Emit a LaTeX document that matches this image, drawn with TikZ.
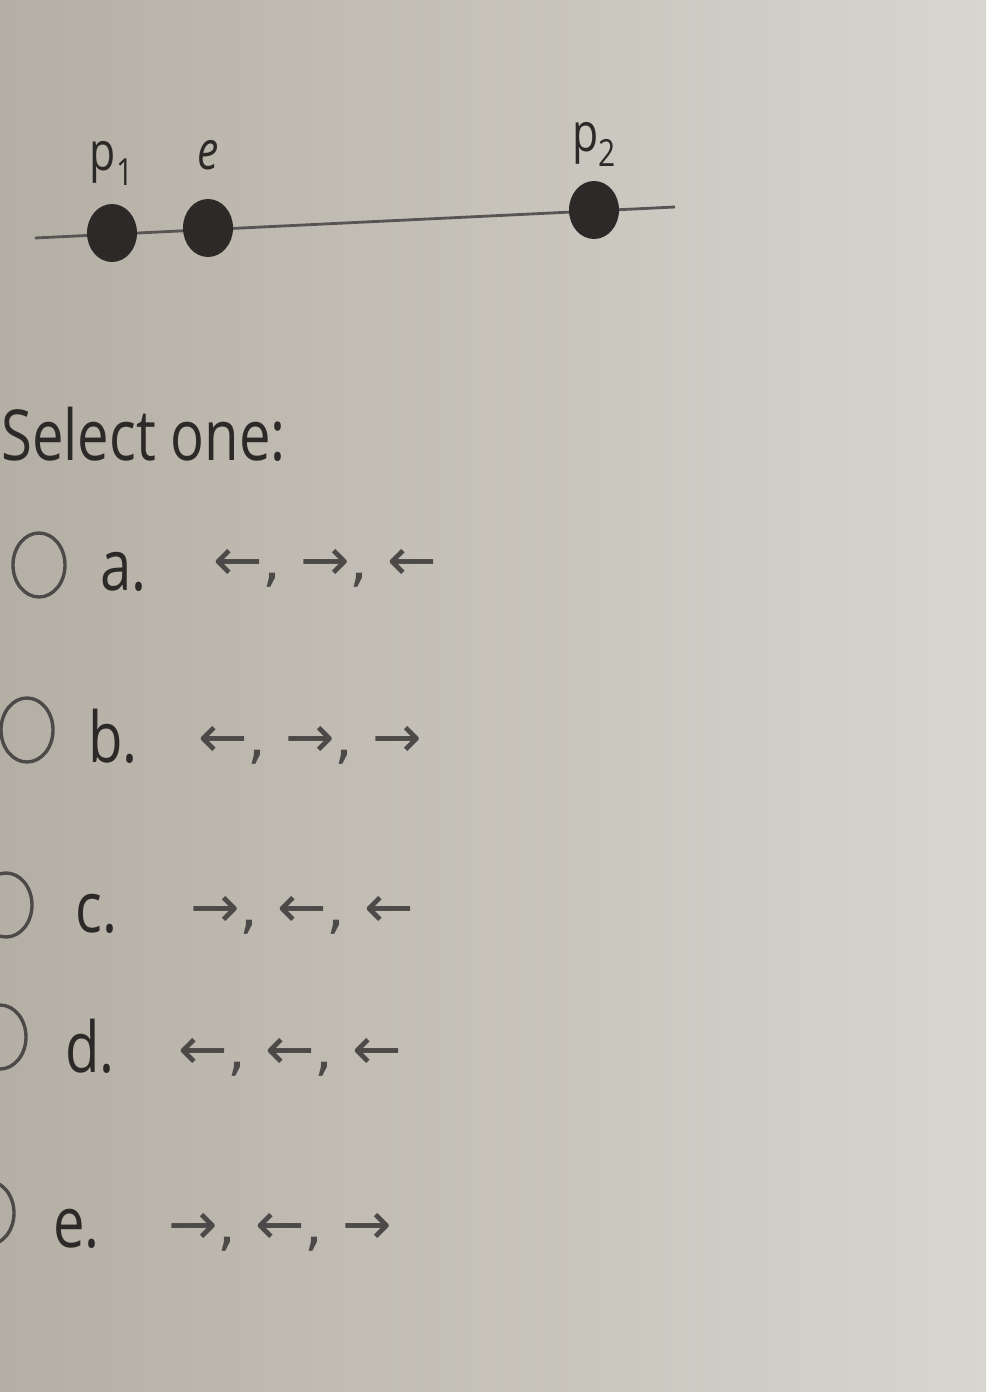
\documentclass[tikz,border=0pt]{standalone}
\usepackage{fontspec}
\setmainfont{Open Sans}
\newfontfamily\screenfont[FakeStretch=0.8]{Open Sans}
\newfontfamily\arrowfont{DejaVu Sans}
\usetikzlibrary{positioning,shapes.geometric}
\definecolor{screenL}{RGB}{180,175,164}
\definecolor{screenR}{RGB}{216,214,208}
\definecolor{ink}{RGB}{44,42,40}

\begin{document}
\begin{tikzpicture}[x=0.025cm,y=-0.025cm,
    every node/.style={inner sep=0pt,text=ink},
    dot/.style={ellipse,fill=ink,minimum width=1.25cm,minimum height=1.45cm},
    radio/.style={ellipse,draw=ink!85,line width=2.4pt,minimum width=1.3cm,minimum height=1.6cm},
    lbl/.style={font=\screenfont\fontsize{38}{42}\selectfont},
    txt/.style={anchor=base west,font=\screenfont\fontsize{50}{60}\selectfont},
    arr/.style={anchor=base west,text=ink!85,font=\arrowfont\fontsize{42}{48}\selectfont}]
    \clip (0,0) rectangle (986,1392);
    \shade[left color=screenL,right color=screenR] (0,0) rectangle (986,1392);
    % number line
    \coordinate (L) at (35,238);
    \coordinate (R) at (675,207);
    \draw[ink!80,line width=2pt] (L) -- (R);
    \node[dot] (P1) at (112,233) {};
    \node[dot] (E) at (208,228) {};
    \node[dot] (P2) at (594,210) {};
    \node[lbl,above=0.45cm of P1] (P1lbl) {p\textsubscript{1}};
    \node[lbl,above=0.7cm of E] (Elbl) {\itshape e};
    \node[lbl,above=0.35cm of P2] (P2lbl) {p\textsubscript{2}};
    % choices
    \node[txt] (Sel) at (1,460) {Select one:};
    \node[radio] (RA) at (39,565) {};
    \node[radio] (RB) at (27,730) {};
    \node[radio] (RC) at (6,905) {};
    \node[radio] (RD) at (0,1037) {};
    \node[radio] (RE) at (-12,1213) {};
    \node[txt] (OptA) at (100,590) {a.};
    \node[txt] (OptB) at (88,762) {b.};
    \node[txt] (OptC) at (75,932) {c.};
    \node[txt] (OptD) at (65,1072) {d.};
    \node[txt] (OptE) at (53,1247) {e.};
    \node[arr] (ArrA) at (213,580) {←, →, ←};
    \node[arr] (ArrB) at (198,757) {←, →, →};
    \node[arr] (ArrC) at (190,927) {→, ←, ←};
    \node[arr] (ArrD) at (178,1069) {←, ←, ←};
    \node[arr] (ArrE) at (168,1244) {→, ←, →};
\end{tikzpicture}
\end{document}
